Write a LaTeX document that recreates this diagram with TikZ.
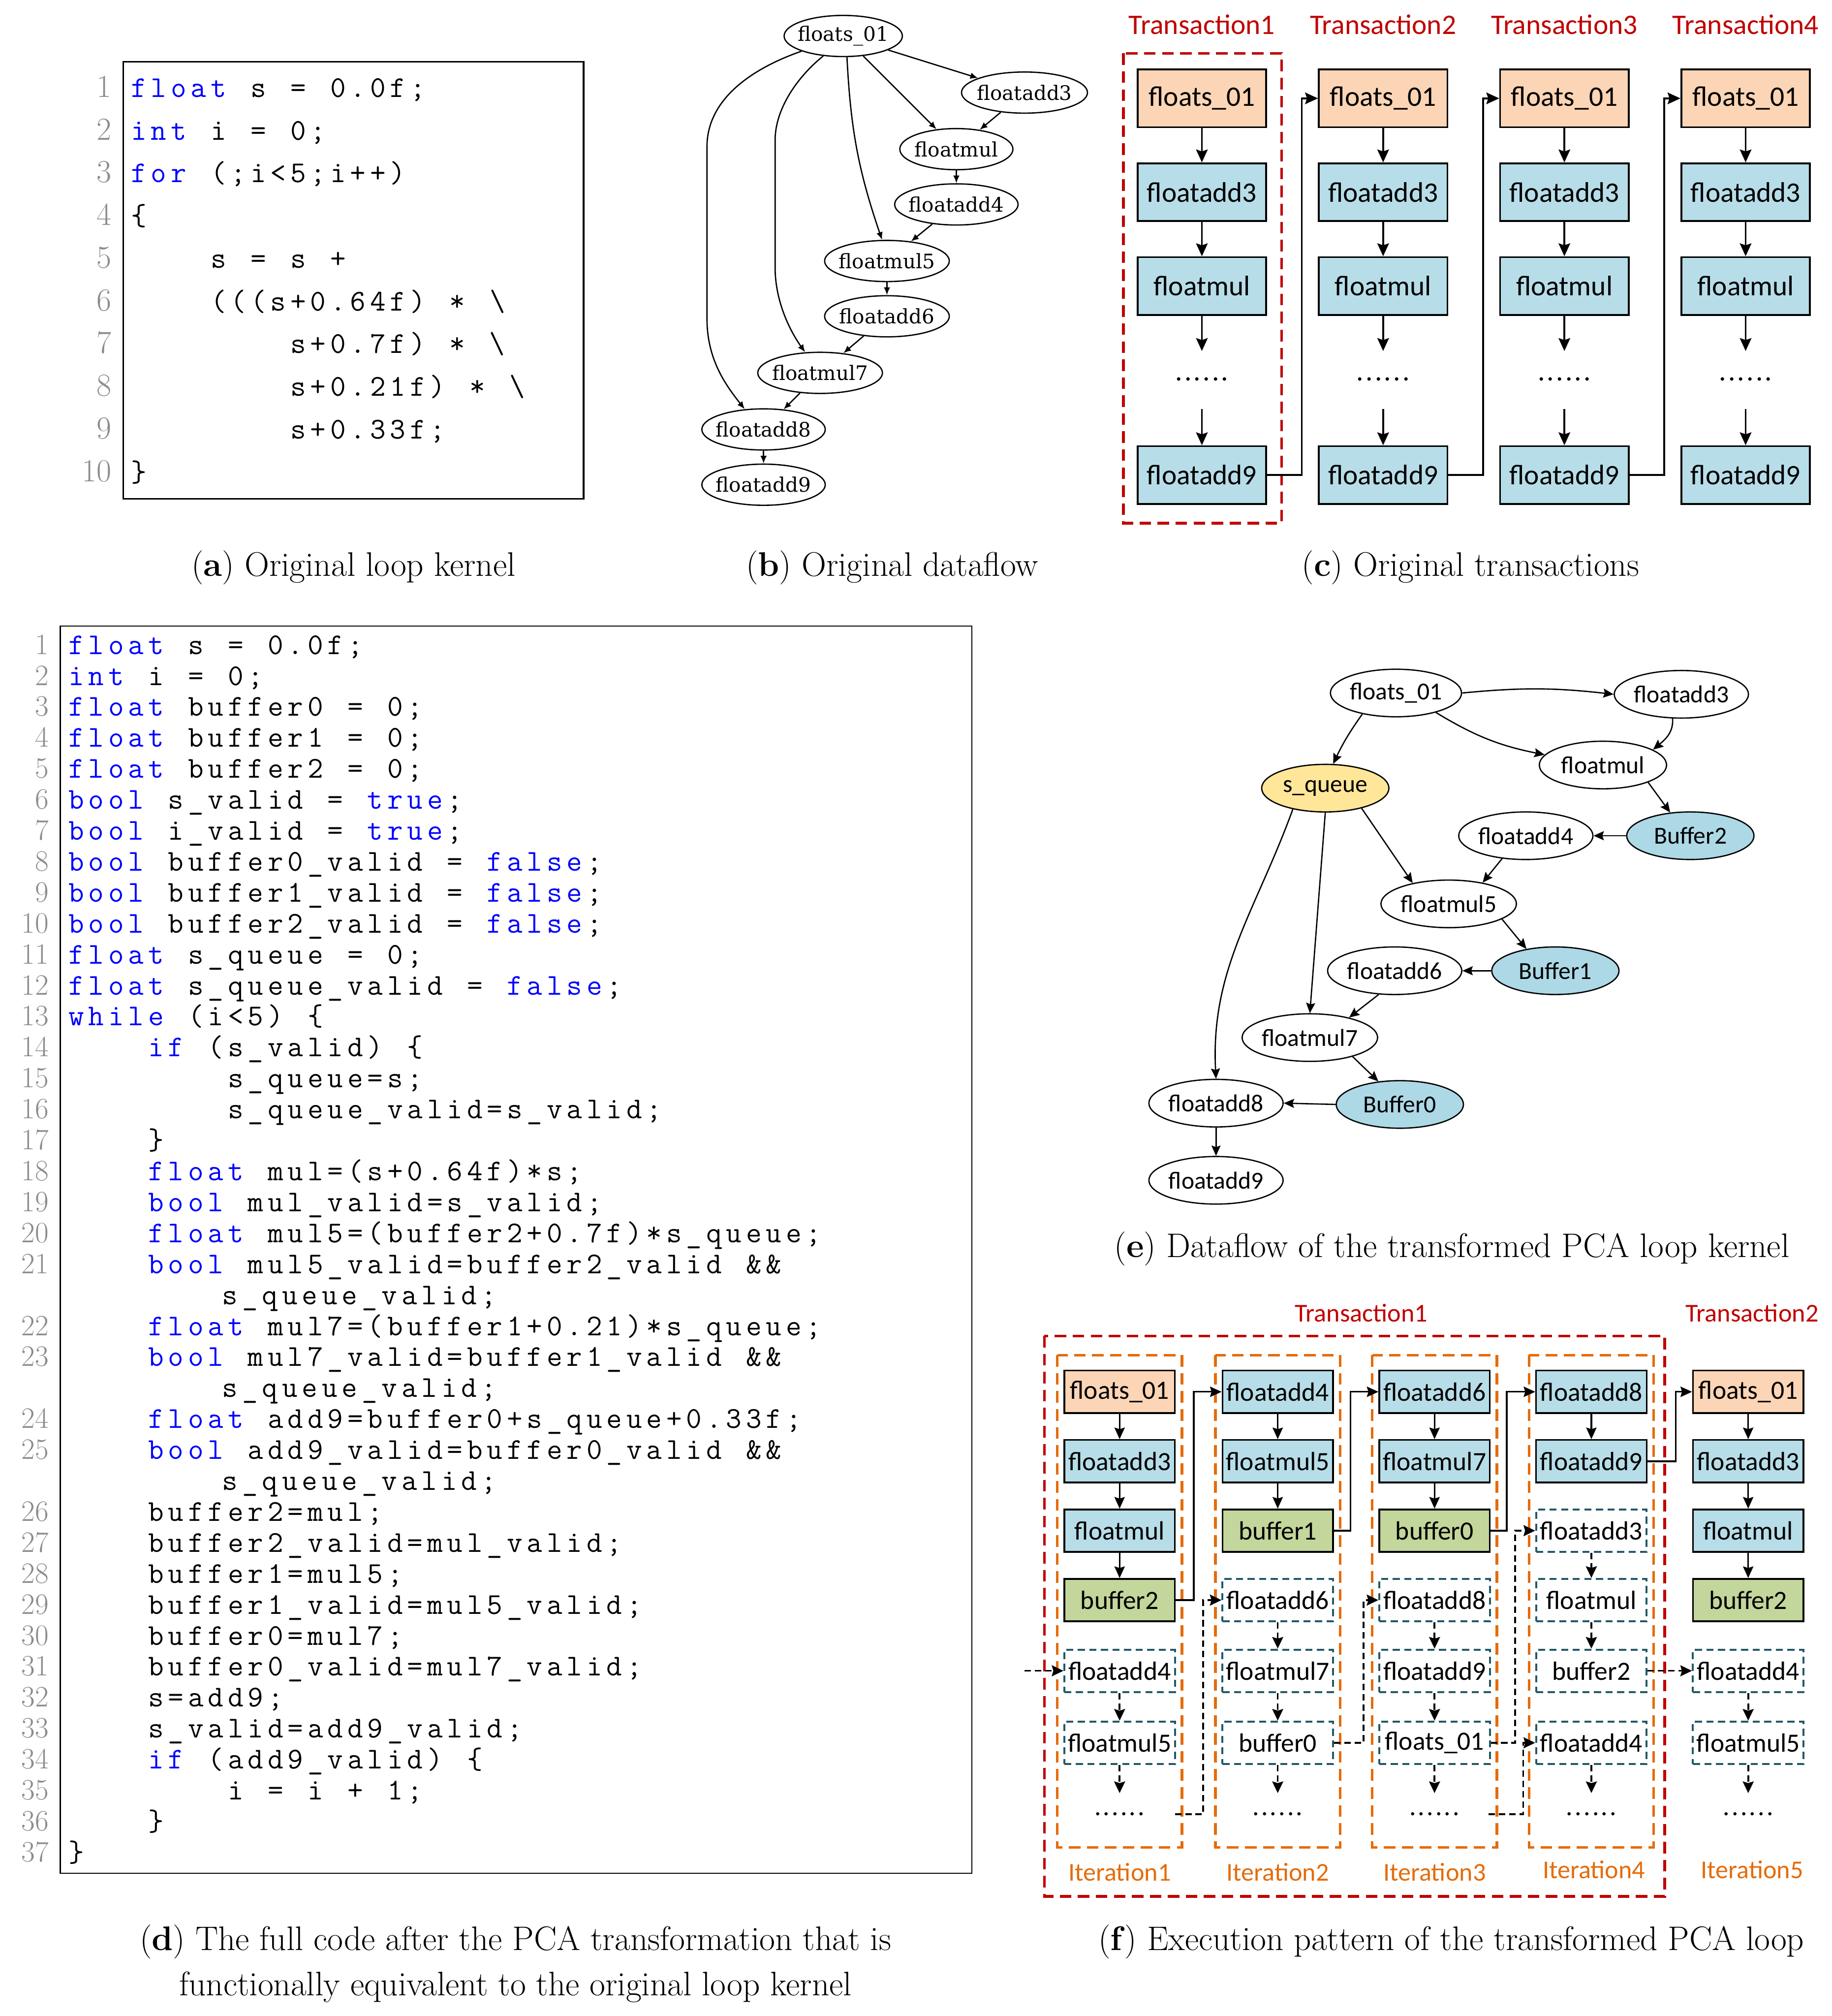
\documentclass[tikz,border=0pt]{standalone}
\usepackage{fontspec}
\usepackage{xcolor}
\usetikzlibrary{arrows.meta,shapes.geometric}
\newfontfamily\calfont{Carlito}
\newfontfamily\dvfont{DejaVu Serif}
\definecolor{peach}{HTML}{FBD5B5}
\definecolor{lblue}{HTML}{B7DDE8}
\definecolor{lgreen}{HTML}{C3D69B}
\definecolor{tred}{HTML}{C00000}
\definecolor{iorange}{HTML}{E46C0A}
\definecolor{dteal}{HTML}{215968}
\definecolor{sqyellow}{HTML}{FFE699}
\definecolor{bufblue}{HTML}{ADD8E6}
\definecolor{lngray}{HTML}{8C8C8C}
\ExplSyntaxOn
\dim_new:N \l_codecw_dim
\dim_set:Nn \l_codecw_dim {15.5pt}
\NewDocumentCommand \codestr { m }
  { \str_map_inline:nn {#1}
     { \makebox[\l_codecw_dim][c]{ \str_case:nnF {##1} { {@}{\textbackslash} {[}{\{} {]}{\}} } {##1} } } }
\ExplSyntaxOff
\newcommand\codekw[1]{\textcolor{blue}{\codestr{#1}}}
\newcommand\sixdots{.\hspace{1.6pt}.\hspace{1.6pt}.\hspace{1.6pt}.\hspace{1.6pt}.\hspace{1.6pt}.}
\tikzset{
  codel/.style={anchor=base west, inner sep=0pt, font=\ttfamily\fontsize{23.5}{28}\selectfont\addfontfeature{FakeBold=1}},
  lnuma/.style={anchor=base east, inner sep=0pt, text=lngray, font=\fontsize{25}{30}\selectfont},
  lnumd/.style={anchor=base east, inner sep=0pt, text=lngray, font=\fontsize{23}{28}\selectfont},
  capt/.style={anchor=base, inner sep=0pt, font=\fontsize{26.5}{31}\selectfont},
  bnode/.style={ellipse, draw, line width=1pt, minimum height=32pt, inner xsep=-4pt, inner ysep=0pt, font=\dvfont\fontsize{15.5}{18}\selectfont},
  barr/.style={line width=1pt, -{Latex[length=6pt,width=5pt]}},
  cbox/.style={draw, line width=1.4pt, minimum width=100pt, minimum height=45pt, inner sep=0pt, font=\calfont\fontsize{22}{26}\selectfont},
  carr/.style={line width=1.4pt, -{Stealth[length=10pt,width=9pt,inset=1.5pt]}},
  clab/.style={anchor=base, inner sep=0pt, text=tred, font=\calfont\fontsize{22}{26}\selectfont},
  enode/.style={ellipse, draw, line width=1pt, minimum width=99pt, minimum height=37pt, inner sep=0pt, font=\calfont\fontsize{19}{22}\selectfont},
  earr/.style={line width=1pt, -{Stealth[length=8pt,width=7pt,inset=1.2pt]}},
  fbox/.style={draw, line width=1.3pt, minimum width=86pt, minimum height=33pt, inner sep=0pt, font=\calfont\fontsize{20.5}{24}\selectfont},
  fdbox/.style={fbox, draw=dteal, line width=1.5pt, dash pattern=on 5.5pt off 3.5pt},
  farr/.style={line width=1.3pt, -{Stealth[length=9pt,width=8pt,inset=1.2pt]}},
  fdarr/.style={line width=1.4pt, dash pattern=on 5pt off 3pt, -{Stealth[length=9pt,width=8.5pt,inset=1.2pt]}},
  flab/.style={anchor=base, inner sep=0pt, font=\calfont\fontsize{20}{24}\selectfont},
  dotsnode/.style={inner sep=0pt},
}
\begin{document}
\begin{tikzpicture}[x=1pt,y=-1pt]
\useasboundingbox (0,0) rectangle (1425,1568);

% ================= (a) =================
\draw[line width=1.2pt] (96,48) rectangle (454,388);
\node[lnuma] (an1) at (87,75.6) {1};
\node[lnuma] (an2) at (87,108.8) {2};
\node[lnuma] (an3) at (87,142.0) {3};
\node[lnuma] (an4) at (87,175.2) {4};
\node[lnuma] (an5) at (87,208.4) {5};
\node[lnuma] (an6) at (87,241.6) {6};
\node[lnuma] (an7) at (87,274.8) {7};
\node[lnuma] (an8) at (87,308.0) {8};
\node[lnuma] (an9) at (87,341.2) {9};
\node[lnuma] (an10) at (87,374.4) {10};
\node[codel] (a1) at (100,75.6) {\codekw{float}\codestr{ s = 0.0f;}};
\node[codel] (a2) at (100,108.8) {\codekw{int}\codestr{ i = 0;}};
\node[codel] (a3) at (100,142.0) {\codekw{for}\codestr{ (;i<5;i++)}};
\node[codel] (a4) at (100,175.2) {\codestr{[}};
\node[codel] (a5) at (162,208.4) {\codestr{s = s +}};
\node[codel] (a6) at (162,241.6) {\codestr{(((s+0.64f) * @}};
\node[codel] (a7) at (224,274.8) {\codestr{s+0.7f) * @}};
\node[codel] (a8) at (224,308.0) {\codestr{s+0.21f) * @}};
\node[codel] (a9) at (224,341.2) {\codestr{s+0.33f;}};
\node[codel] (a10) at (100,374.4) {\codestr{]}};
\node[capt] (capa) at (275,448) {(\textbf{a}) Original loop kernel};

% ================= (b) =================
\node[bnode, minimum width=92pt] (b01) at (656,28) {floats\_01};
\node[bnode, minimum width=98pt] (b3) at (797,72) {floatadd3};
\node[bnode, minimum width=88pt] (bmul) at (744,116) {floatmul};
\node[bnode, minimum width=96pt] (b4) at (744,159) {floatadd4};
\node[bnode, minimum width=97pt] (b5) at (690,203) {floatmul5};
\node[bnode, minimum width=97pt] (b6) at (690,246) {floatadd6};
\node[bnode, minimum width=97pt] (b7) at (638,290) {floatmul7};
\node[bnode, minimum width=96pt] (b8) at (594,334) {floatadd8};
\node[bnode, minimum width=96pt] (b9) at (594,377) {floatadd9};
\draw[barr] (b01) -- (b3);
\draw[barr] (b01) -- (bmul);
\draw[barr] (b01.-80) to[bend right=8] (b5.103);
\draw[barr] (b01.225) .. controls (620,60) and (603,85) .. (603,109) -- (603,208) .. controls (603,235) and (615,258) .. (b7.126);
\draw[barr] (b01.200) .. controls (580,55) and (550,80) .. (550,114) -- (550,248) .. controls (550,280) and (565,300) .. (b8.133);
\draw[barr] (b3) -- (bmul);
\draw[barr] (bmul) -- (b4);
\draw[barr] (b4) -- (b5);
\draw[barr] (b5) -- (b6);
\draw[barr] (b6) -- (b7);
\draw[barr] (b7) -- (b8);
\draw[barr] (b8) -- (b9);
\node[capt] (capb) at (694,448) {(\textbf{b}) Original dataflow};

% ================= (c) =================
\draw[tred, line width=2.2pt, dash pattern=on 9pt off 5pt] (874,41.5) rectangle (997,407);
\foreach \i/\x in {1/935,2/1076,3/1217,4/1358}{
  \node[clab] (ct\i) at (\x,26.5) {Transaction\i};
  \node[cbox, fill=peach] (c\i1) at (\x,76.5) {floats\_01};
  \node[cbox, fill=lblue] (c\i2) at (\x,149.5) {floatadd3};
  \node[cbox, fill=lblue] (c\i3) at (\x,222.5) {floatmul};
  \node[dotsnode, font=\calfont\fontsize{22}{26}\selectfont] (c\i4) at (\x,295) {\sixdots};
  \node[cbox, fill=lblue] (c\i5) at (\x,369.5) {floatadd9};
  \coordinate (ca\i) at (\x,273);
  \coordinate (cb\i) at (\x,318);
  \draw[carr] (c\i1) -- (c\i2);
  \draw[carr] (c\i2) -- (c\i3);
  \draw[carr] (c\i3) -- (ca\i);
  \draw[carr] (cb\i) -- (c\i5);
}
\draw[carr] (c15.east) -- ++(27,0) |- (c21.west);
\draw[carr] (c25.east) -- ++(27,0) |- (c31.west);
\draw[carr] (c35.east) -- ++(27,0) |- (c41.west);
\node[capt] (capc) at (1144,448) {(\textbf{c}) Original transactions};

% ================= (d) =================
\draw[line width=1pt] (47,487) rectangle (756,1457);
\foreach \n/\r in {1/1,2/2,3/3,4/4,5/5,6/6,7/7,8/8,9/9,10/10,11/11,12/12,13/13,14/14,15/15,16/16,17/17,18/18,19/19,20/20,21/21,22/23,23/24,24/26,25/27,26/29,27/30,28/31,29/32,30/33,31/34,32/35,33/36,34/37,35/38,36/39,37/40}{
  \node[lnumd] (dn\n) at (38,{508.8+24.08*(\r-1)}) {\n};
}
\node[codel] (d1) at (51.5,508.8) {\codekw{float}\codestr{ s = 0.0f;}};
\node[codel] (d2) at (51.5,532.88) {\codekw{int}\codestr{ i = 0;}};
\node[codel] (d3) at (51.5,556.96) {\codekw{float}\codestr{ buffer0 = 0;}};
\node[codel] (d4) at (51.5,581.04) {\codekw{float}\codestr{ buffer1 = 0;}};
\node[codel] (d5) at (51.5,605.12) {\codekw{float}\codestr{ buffer2 = 0;}};
\node[codel] (d6) at (51.5,629.2) {\codekw{bool}\codestr{ s_valid = }\codekw{true}\codestr{;}};
\node[codel] (d7) at (51.5,653.28) {\codekw{bool}\codestr{ i_valid = }\codekw{true}\codestr{;}};
\node[codel] (d8) at (51.5,677.36) {\codekw{bool}\codestr{ buffer0_valid = }\codekw{false}\codestr{;}};
\node[codel] (d9) at (51.5,701.44) {\codekw{bool}\codestr{ buffer1_valid = }\codekw{false}\codestr{;}};
\node[codel] (d10) at (51.5,725.52) {\codekw{bool}\codestr{ buffer2_valid = }\codekw{false}\codestr{;}};
\node[codel] (d11) at (51.5,749.6) {\codekw{float}\codestr{ s_queue = 0;}};
\node[codel] (d12) at (51.5,773.68) {\codekw{float}\codestr{ s_queue_valid = }\codekw{false}\codestr{;}};
\node[codel] (d13) at (51.5,797.76) {\codekw{while}\codestr{ (i<5) [}};
\node[codel] (d14) at (113.5,821.84) {\codekw{if}\codestr{ (s_valid) [}};
\node[codel] (d15) at (175.5,845.92) {\codestr{s_queue=s;}};
\node[codel] (d16) at (175.5,870.0) {\codestr{s_queue_valid=s_valid;}};
\node[codel] (d17) at (113.5,894.08) {\codestr{]}};
\node[codel] (d18) at (113.5,918.16) {\codekw{float}\codestr{ mul=(s+0.64f)*s;}};
\node[codel] (d19) at (113.5,942.24) {\codekw{bool}\codestr{ mul_valid=s_valid;}};
\node[codel] (d20) at (113.5,966.32) {\codekw{float}\codestr{ mul5=(buffer2+0.7f)*s_queue;}};
\node[codel] (d21) at (113.5,990.4) {\codekw{bool}\codestr{ mul5_valid=buffer2_valid &&}};
\node[codel] (d21b) at (171,1014.48) {\codestr{s_queue_valid;}};
\node[codel] (d22) at (113.5,1038.56) {\codekw{float}\codestr{ mul7=(buffer1+0.21)*s_queue;}};
\node[codel] (d23) at (113.5,1062.64) {\codekw{bool}\codestr{ mul7_valid=buffer1_valid &&}};
\node[codel] (d23b) at (171,1086.72) {\codestr{s_queue_valid;}};
\node[codel] (d24) at (113.5,1110.8) {\codekw{float}\codestr{ add9=buffer0+s_queue+0.33f;}};
\node[codel] (d25) at (113.5,1134.88) {\codekw{bool}\codestr{ add9_valid=buffer0_valid &&}};
\node[codel] (d25b) at (171,1158.96) {\codestr{s_queue_valid;}};
\node[codel] (d26) at (113.5,1183.04) {\codestr{buffer2=mul;}};
\node[codel] (d27) at (113.5,1207.12) {\codestr{buffer2_valid=mul_valid;}};
\node[codel] (d28) at (113.5,1231.2) {\codestr{buffer1=mul5;}};
\node[codel] (d29) at (113.5,1255.28) {\codestr{buffer1_valid=mul5_valid;}};
\node[codel] (d30) at (113.5,1279.36) {\codestr{buffer0=mul7;}};
\node[codel] (d31) at (113.5,1303.44) {\codestr{buffer0_valid=mul7_valid;}};
\node[codel] (d32) at (113.5,1327.52) {\codestr{s=add9;}};
\node[codel] (d33) at (113.5,1351.6) {\codestr{s_valid=add9_valid;}};
\node[codel] (d34) at (113.5,1375.68) {\codekw{if}\codestr{ (add9_valid) [}};
\node[codel] (d35) at (175.5,1399.76) {\codestr{i = i + 1;}};
\node[codel] (d36) at (113.5,1423.84) {\codestr{]}};
\node[codel] (d37) at (51.5,1447.92) {\codestr{]}};
\node[capt] (capd1) at (401,1517) {(\textbf{d}) The full code after the PCA transformation that is};
\node[capt] (capd2) at (401,1552) {functionally equivalent to the original loop kernel};

% ================= (e) =================
\node[enode, minimum width=102pt] (e01) at (1086,539) {floats\_01};
\node[enode] (e3) at (1308,540) {floatadd3};
\node[enode] (emul) at (1247,595) {floatmul};
\node[enode, fill=sqyellow] (esq) at (1031,613) {s\_queue};
\node[enode, fill=bufblue] (eb2) at (1315,650) {Buffer2};
\node[enode] (e4) at (1187,650) {floatadd4};
\node[enode] (e5) at (1127,703) {floatmul5};
\node[enode, fill=bufblue] (eb1) at (1210,755) {Buffer1};
\node[enode] (e6) at (1085,755) {floatadd6};
\node[enode] (e7) at (1019,807) {floatmul7};
\node[enode, fill=bufblue] (eb0) at (1089,859) {Buffer0};
\node[enode] (e8) at (946,858) {floatadd8};
\node[enode] (e9) at (946,918) {floatadd9};
\draw[earr] (e01.east) to[bend left=6] (e3.west);
\draw[earr] (e01.-26) to[bend right=10] (emul.170);
\draw[earr] (e01.212) to[bend right=5] (esq.72);
\draw[earr] (e3.250) to[out=-85,in=40] (emul.17);
\draw[earr] (emul.-21) -- (eb2.131);
\draw[earr] (eb2.west) -- (e4.east);
\draw[earr] (e4.224) -- (e5.32);
\draw[earr] (esq.-29) -- (e5.150);
\draw[earr] (e5.-16) -- (eb1.143);
\draw[earr] (eb1.west) -- (e6.east);
\draw[earr] (e6.236) -- (e7.27);
\draw[earr] (esq.south) -- (e7.north);
\draw[earr] (e7.-24) -- (eb0.133);
\draw[earr] (eb0.west) -- (e8.east);
\draw[earr] (esq.213) to[out=-110,in=93] (e8.north);
\draw[earr] (e8.south) -- (e9.north);
\node[capt] (cape) at (1129.5,978) {(\textbf{e}) Dataflow of the transformed PCA loop kernel};

% ================= (f) =================
\draw[tred, line width=2pt, dash pattern=on 9pt off 5pt] (812.5,1039) rectangle (1295,1475);
\foreach \x in {871,994,1116,1238}{
  \draw[iorange, line width=2pt, dash pattern=on 9pt off 5pt] (\x-48.5,1054) rectangle (\x+48.5,1437);
}
\node[flab, text=tred] (ft1) at (1059,1028) {Transaction1};
\node[flab, text=tred] (ft2) at (1363,1028) {Transaction2};
\node[flab, text=iorange] (fi1) at (871,1463) {Iteration1};
\node[flab, text=iorange] (fi2) at (994,1463) {Iteration2};
\node[flab, text=iorange] (fi3) at (1116,1463) {Iteration3};
\node[flab, text=iorange] (fi4) at (1240,1461) {Iteration4};
\node[flab, text=iorange] (fi5) at (1363,1461) {Iteration5};
% column 1
\node[fbox, fill=peach] (f11) at (871,1082.5) {floats\_01};
\node[fbox, fill=lblue] (f12) at (871,1136.5) {floatadd3};
\node[fbox, fill=lblue] (f13) at (871,1190.5) {floatmul};
\node[fbox, fill=lgreen] (f14) at (871,1244.5) {buffer2};
\node[fdbox] (f15) at (871,1299.5) {floatadd4};
\node[fdbox] (f16) at (871,1355.5) {floatmul5};
% column 2
\node[fbox, fill=lblue] (f21) at (994,1082.5) {floatadd4};
\node[fbox, fill=lblue] (f22) at (994,1136.5) {floatmul5};
\node[fbox, fill=lgreen] (f23) at (994,1190.5) {buffer1};
\node[fdbox] (f24) at (994,1244.5) {floatadd6};
\node[fdbox] (f25) at (994,1299.5) {floatmul7};
\node[fdbox] (f26) at (994,1355.5) {buffer0};
% column 3
\node[fbox, fill=lblue] (f31) at (1116,1082.5) {floatadd6};
\node[fbox, fill=lblue] (f32) at (1116,1136.5) {floatmul7};
\node[fbox, fill=lgreen] (f33) at (1116,1190.5) {buffer0};
\node[fdbox] (f34) at (1116,1244.5) {floatadd8};
\node[fdbox] (f35) at (1116,1299.5) {floatadd9};
\node[fdbox] (f36) at (1116,1355.5) {floats\_01};
% column 4
\node[fbox, fill=lblue] (f41) at (1238,1082.5) {floatadd8};
\node[fbox, fill=lblue] (f42) at (1238,1136.5) {floatadd9};
\node[fdbox] (f43) at (1238,1190.5) {floatadd3};
\node[fdbox] (f44) at (1238,1244.5) {floatmul};
\node[fdbox] (f45) at (1238,1299.5) {buffer2};
\node[fdbox] (f46) at (1238,1355.5) {floatadd4};
% column 5
\node[fbox, fill=peach] (f51) at (1360,1082.5) {floats\_01};
\node[fbox, fill=lblue] (f52) at (1360,1136.5) {floatadd3};
\node[fbox, fill=lblue] (f53) at (1360,1190.5) {floatmul};
\node[fbox, fill=lgreen] (f54) at (1360,1244.5) {buffer2};
\node[fdbox] (f55) at (1360,1299.5) {floatadd4};
\node[fdbox] (f56) at (1360,1355.5) {floatmul5};
% dots and arrow ends
\foreach \i/\x in {1/871,2/994,3/1116,4/1238,5/1360}{
  \node[dotsnode, font=\calfont\fontsize{20.5}{24}\selectfont] (fd\i) at (\x,1411) {\sixdots};
  \coordinate (fe\i) at (\x,1394.6);
}
\draw[farr] (f11) -- (f12);
\draw[farr] (f12) -- (f13);
\draw[farr] (f13) -- (f14);
\draw[fdarr] (f15) -- (f16);
\draw[fdarr] (f16) -- (fe1);
\draw[farr] (f21) -- (f22);
\draw[farr] (f22) -- (f23);
\draw[fdarr] (f24) -- (f25);
\draw[fdarr] (f25) -- (f26);
\draw[fdarr] (f26) -- (fe2);
\draw[farr] (f31) -- (f32);
\draw[farr] (f32) -- (f33);
\draw[fdarr] (f34) -- (f35);
\draw[fdarr] (f35) -- (f36);
\draw[fdarr] (f36) -- (fe3);
\draw[farr] (f41) -- (f42);
\draw[fdarr] (f43) -- (f44);
\draw[fdarr] (f44) -- (f45);
\draw[fdarr] (f46) -- (fe4);
\draw[farr] (f51) -- (f52);
\draw[farr] (f52) -- (f53);
\draw[farr] (f53) -- (f54);
\draw[fdarr] (f55) -- (f56);
\draw[fdarr] (f56) -- (fe5);
% cross connectors
\draw[farr] (f14.east) -- ++(14,0) |- (f21.west);
\draw[farr] (f23.east) -- ++(13,0) |- (f31.west);
\draw[farr] (f33.east) -- ++(12.5,0) |- (f41.west);
\draw[farr] (f42.east) -- ++(22,0) |- (f51.west);
\coordinate (fin) at (797,1299.5);
\coordinate (fo1) at (914,1411);
\coordinate (fo3) at (1158,1411);
\draw[fdarr] (fin) -- (f15.west);
\draw[fdarr] (fo1) -- ++(22,0) |- (f24.west);
\draw[fdarr] (f26.east) -- ++(23,0) |- (f34.west);
\draw[fdarr] (f36.east) -- ++(19,0) |- (f43.west);
\draw[fdarr] (fo3) -- ++(27,0) |- (f46.west);
\draw[fdarr] (f45.east) -- (f55.west);
\node[capt] (capf) at (1129,1517) {(\textbf{f}) Execution pattern of the transformed PCA loop};
\end{tikzpicture}
\end{document}
